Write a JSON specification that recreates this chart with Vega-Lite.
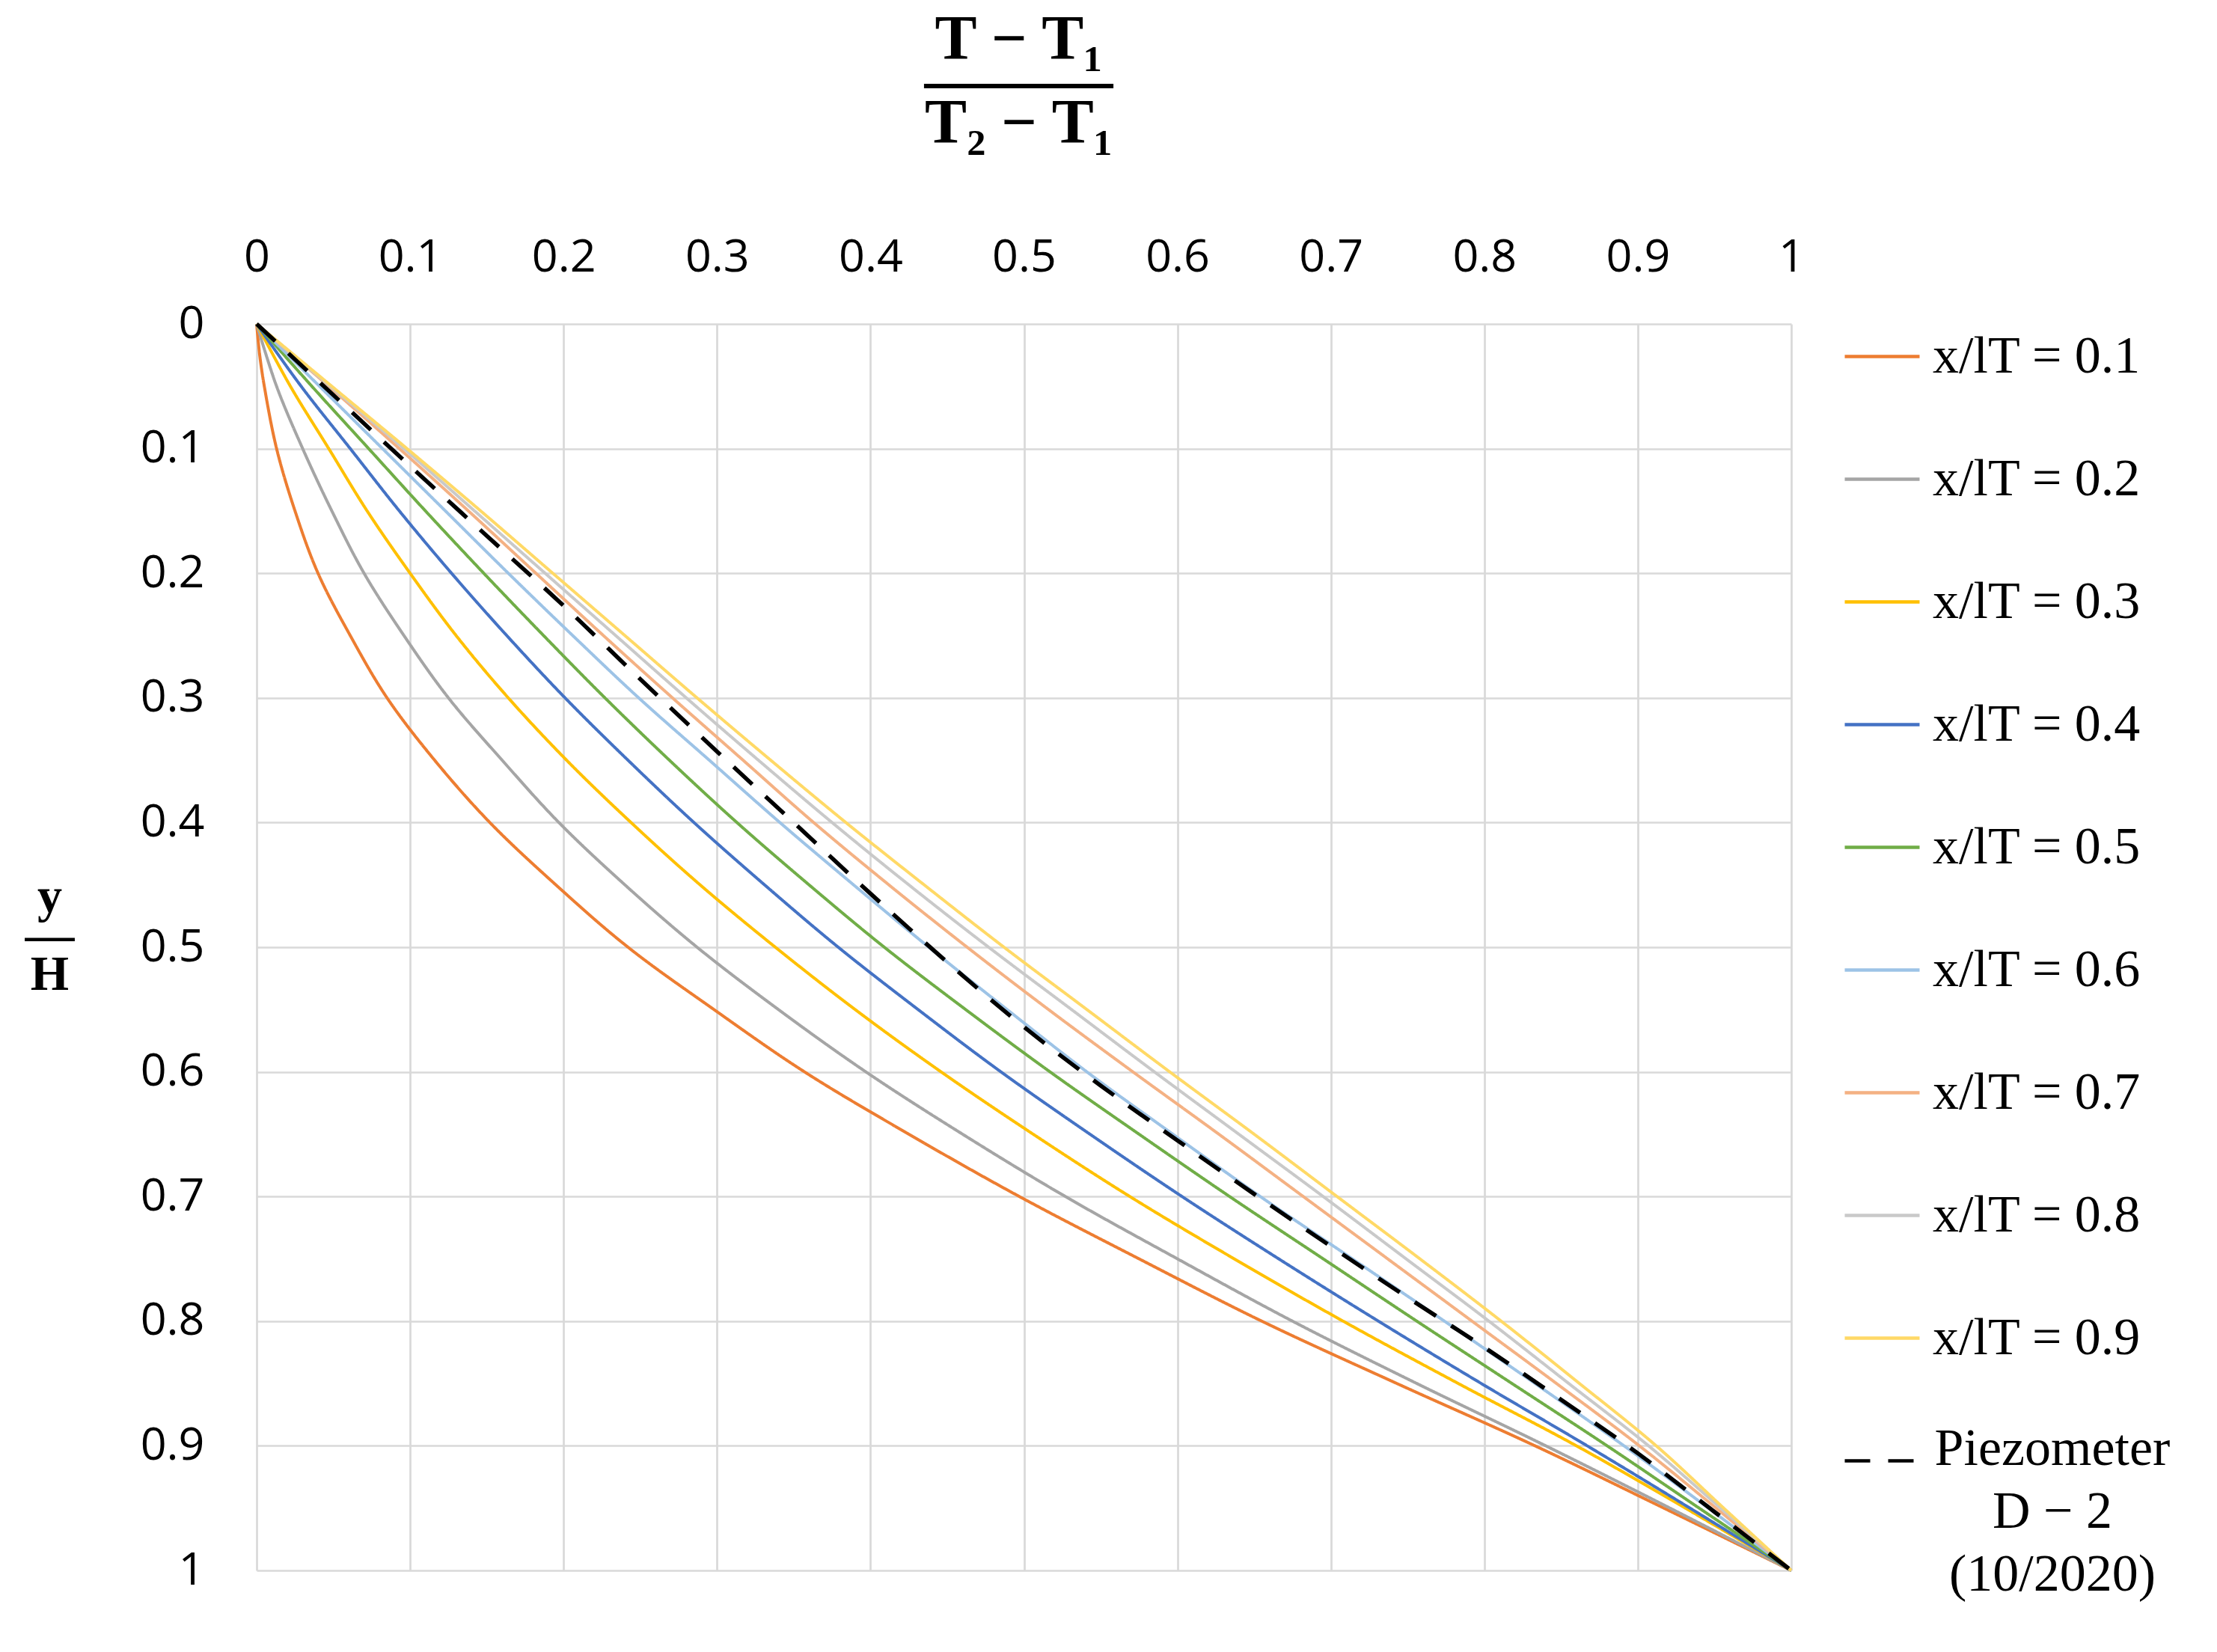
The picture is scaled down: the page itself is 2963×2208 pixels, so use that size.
{
  "$schema": "https://vega.github.io/schema/vega-lite/v6.json",
  "width": 2051,
  "height": 1666,
  "autosize": {"type": "none"},
  "padding": {"left": 343, "top": 433, "right": 569, "bottom": 109},
  "background": "white",
  "datasets": {
    "curves": [
      {"s": "0.1", "y": 0, "t": 0}, {"s": "0.1", "y": 0.025, "t": 0.002}, {"s": "0.1", "y": 0.05, "t": 0.005},
      {"s": "0.1", "y": 0.1, "t": 0.013}, {"s": "0.1", "y": 0.15, "t": 0.025}, {"s": "0.1", "y": 0.2, "t": 0.04},
      {"s": "0.1", "y": 0.25, "t": 0.061}, {"s": "0.1", "y": 0.3, "t": 0.085}, {"s": "0.1", "y": 0.35, "t": 0.116},
      {"s": "0.1", "y": 0.4, "t": 0.152}, {"s": "0.1", "y": 0.45, "t": 0.195}, {"s": "0.1", "y": 0.5, "t": 0.242},
      {"s": "0.1", "y": 0.55, "t": 0.298}, {"s": "0.1", "y": 0.6, "t": 0.357}, {"s": "0.1", "y": 0.65, "t": 0.425},
      {"s": "0.1", "y": 0.7, "t": 0.497}, {"s": "0.1", "y": 0.75, "t": 0.575}, {"s": "0.1", "y": 0.8, "t": 0.655},
      {"s": "0.1", "y": 0.85, "t": 0.743}, {"s": "0.1", "y": 0.9, "t": 0.833}, {"s": "0.1", "y": 0.95, "t": 0.917},
      {"s": "0.1", "y": 1, "t": 1},

      {"s": "0.2", "y": 0, "t": 0}, {"s": "0.2", "y": 0.05, "t": 0.013}, {"s": "0.2", "y": 0.1, "t": 0.03},
      {"s": "0.2", "y": 0.15, "t": 0.049}, {"s": "0.2", "y": 0.2, "t": 0.07}, {"s": "0.2", "y": 0.25, "t": 0.096},
      {"s": "0.2", "y": 0.3, "t": 0.125}, {"s": "0.2", "y": 0.35, "t": 0.16}, {"s": "0.2", "y": 0.4, "t": 0.197},
      {"s": "0.2", "y": 0.45, "t": 0.24}, {"s": "0.2", "y": 0.5, "t": 0.287}, {"s": "0.2", "y": 0.55, "t": 0.34},
      {"s": "0.2", "y": 0.6, "t": 0.397}, {"s": "0.2", "y": 0.65, "t": 0.46}, {"s": "0.2", "y": 0.7, "t": 0.527},
      {"s": "0.2", "y": 0.75, "t": 0.6}, {"s": "0.2", "y": 0.8, "t": 0.675}, {"s": "0.2", "y": 0.85, "t": 0.756},
      {"s": "0.2", "y": 0.9, "t": 0.84}, {"s": "0.2", "y": 0.95, "t": 0.921}, {"s": "0.2", "y": 1, "t": 1},

      {"s": "0.3", "y": 0, "t": 0}, {"s": "0.3", "y": 0.05, "t": 0.022}, {"s": "0.3", "y": 0.1, "t": 0.047},
      {"s": "0.3", "y": 0.15, "t": 0.072}, {"s": "0.3", "y": 0.2, "t": 0.1}, {"s": "0.3", "y": 0.25, "t": 0.13},
      {"s": "0.3", "y": 0.3, "t": 0.164}, {"s": "0.3", "y": 0.35, "t": 0.202}, {"s": "0.3", "y": 0.4, "t": 0.244},
      {"s": "0.3", "y": 0.45, "t": 0.289}, {"s": "0.3", "y": 0.5, "t": 0.338}, {"s": "0.3", "y": 0.55, "t": 0.39},
      {"s": "0.3", "y": 0.6, "t": 0.446}, {"s": "0.3", "y": 0.65, "t": 0.506}, {"s": "0.3", "y": 0.7, "t": 0.569},
      {"s": "0.3", "y": 0.75, "t": 0.637}, {"s": "0.3", "y": 0.8, "t": 0.708}, {"s": "0.3", "y": 0.85, "t": 0.783},
      {"s": "0.3", "y": 0.9, "t": 0.86}, {"s": "0.3", "y": 0.95, "t": 0.931}, {"s": "0.3", "y": 1, "t": 1},

      {"s": "0.4", "y": 0, "t": 0}, {"s": "0.4", "y": 0.05, "t": 0.029}, {"s": "0.4", "y": 0.1, "t": 0.061},
      {"s": "0.4", "y": 0.15, "t": 0.093}, {"s": "0.4", "y": 0.2, "t": 0.127}, {"s": "0.4", "y": 0.25, "t": 0.163},
      {"s": "0.4", "y": 0.3, "t": 0.201}, {"s": "0.4", "y": 0.35, "t": 0.242}, {"s": "0.4", "y": 0.4, "t": 0.285},
      {"s": "0.4", "y": 0.45, "t": 0.331}, {"s": "0.4", "y": 0.5, "t": 0.379}, {"s": "0.4", "y": 0.55, "t": 0.431},
      {"s": "0.4", "y": 0.6, "t": 0.485}, {"s": "0.4", "y": 0.65, "t": 0.543}, {"s": "0.4", "y": 0.7, "t": 0.603},
      {"s": "0.4", "y": 0.75, "t": 0.666}, {"s": "0.4", "y": 0.8, "t": 0.731}, {"s": "0.4", "y": 0.85, "t": 0.798},
      {"s": "0.4", "y": 0.9, "t": 0.867}, {"s": "0.4", "y": 0.95, "t": 0.934}, {"s": "0.4", "y": 1, "t": 1},

      {"s": "0.5", "y": 0, "t": 0}, {"s": "0.5", "y": 0.05, "t": 0.036}, {"s": "0.5", "y": 0.1, "t": 0.073},
      {"s": "0.5", "y": 0.15, "t": 0.11}, {"s": "0.5", "y": 0.2, "t": 0.148}, {"s": "0.5", "y": 0.25, "t": 0.187},
      {"s": "0.5", "y": 0.3, "t": 0.227}, {"s": "0.5", "y": 0.35, "t": 0.269}, {"s": "0.5", "y": 0.4, "t": 0.313},
      {"s": "0.5", "y": 0.45, "t": 0.36}, {"s": "0.5", "y": 0.5, "t": 0.409}, {"s": "0.5", "y": 0.55, "t": 0.462},
      {"s": "0.5", "y": 0.6, "t": 0.517}, {"s": "0.5", "y": 0.65, "t": 0.575}, {"s": "0.5", "y": 0.7, "t": 0.634},
      {"s": "0.5", "y": 0.75, "t": 0.695}, {"s": "0.5", "y": 0.8, "t": 0.756}, {"s": "0.5", "y": 0.85, "t": 0.818},
      {"s": "0.5", "y": 0.9, "t": 0.88}, {"s": "0.5", "y": 0.95, "t": 0.94}, {"s": "0.5", "y": 1, "t": 1},

      {"s": "0.6", "y": 0, "t": 0}, {"s": "0.6", "y": 0.05, "t": 0.041}, {"s": "0.6", "y": 0.1, "t": 0.082},
      {"s": "0.6", "y": 0.15, "t": 0.123}, {"s": "0.6", "y": 0.2, "t": 0.164}, {"s": "0.6", "y": 0.25, "t": 0.206},
      {"s": "0.6", "y": 0.3, "t": 0.249}, {"s": "0.6", "y": 0.35, "t": 0.295}, {"s": "0.6", "y": 0.4, "t": 0.341},
      {"s": "0.6", "y": 0.45, "t": 0.389}, {"s": "0.6", "y": 0.5, "t": 0.438}, {"s": "0.6", "y": 0.55, "t": 0.489},
      {"s": "0.6", "y": 0.6, "t": 0.541}, {"s": "0.6", "y": 0.65, "t": 0.597}, {"s": "0.6", "y": 0.7, "t": 0.654},
      {"s": "0.6", "y": 0.75, "t": 0.714}, {"s": "0.6", "y": 0.8, "t": 0.774}, {"s": "0.6", "y": 0.85, "t": 0.833},
      {"s": "0.6", "y": 0.9, "t": 0.891}, {"s": "0.6", "y": 0.95, "t": 0.946}, {"s": "0.6", "y": 1, "t": 1},

      {"s": "0.7", "y": 0, "t": 0}, {"s": "0.7", "y": 0.05, "t": 0.047}, {"s": "0.7", "y": 0.1, "t": 0.093},
      {"s": "0.7", "y": 0.15, "t": 0.138}, {"s": "0.7", "y": 0.2, "t": 0.182}, {"s": "0.7", "y": 0.25, "t": 0.226},
      {"s": "0.7", "y": 0.3, "t": 0.271}, {"s": "0.7", "y": 0.35, "t": 0.317}, {"s": "0.7", "y": 0.4, "t": 0.363},
      {"s": "0.7", "y": 0.45, "t": 0.412}, {"s": "0.7", "y": 0.5, "t": 0.463}, {"s": "0.7", "y": 0.55, "t": 0.516},
      {"s": "0.7", "y": 0.6, "t": 0.571}, {"s": "0.7", "y": 0.65, "t": 0.627}, {"s": "0.7", "y": 0.7, "t": 0.682},
      {"s": "0.7", "y": 0.75, "t": 0.737}, {"s": "0.7", "y": 0.8, "t": 0.792}, {"s": "0.7", "y": 0.85, "t": 0.847},
      {"s": "0.7", "y": 0.9, "t": 0.901}, {"s": "0.7", "y": 0.95, "t": 0.951}, {"s": "0.7", "y": 1, "t": 1},

      {"s": "0.8", "y": 0, "t": 0}, {"s": "0.8", "y": 0.05, "t": 0.048}, {"s": "0.8", "y": 0.1, "t": 0.096},
      {"s": "0.8", "y": 0.15, "t": 0.142}, {"s": "0.8", "y": 0.2, "t": 0.188}, {"s": "0.8", "y": 0.25, "t": 0.234},
      {"s": "0.8", "y": 0.3, "t": 0.28}, {"s": "0.8", "y": 0.35, "t": 0.327}, {"s": "0.8", "y": 0.4, "t": 0.375},
      {"s": "0.8", "y": 0.45, "t": 0.425}, {"s": "0.8", "y": 0.5, "t": 0.477}, {"s": "0.8", "y": 0.55, "t": 0.531},
      {"s": "0.8", "y": 0.6, "t": 0.585}, {"s": "0.8", "y": 0.65, "t": 0.64}, {"s": "0.8", "y": 0.7, "t": 0.695},
      {"s": "0.8", "y": 0.75, "t": 0.749}, {"s": "0.8", "y": 0.8, "t": 0.803}, {"s": "0.8", "y": 0.85, "t": 0.855},
      {"s": "0.8", "y": 0.9, "t": 0.907}, {"s": "0.8", "y": 0.95, "t": 0.954}, {"s": "0.8", "y": 1, "t": 1},

      {"s": "0.9", "y": 0, "t": 0}, {"s": "0.9", "y": 0.05, "t": 0.049}, {"s": "0.9", "y": 0.1, "t": 0.098},
      {"s": "0.9", "y": 0.15, "t": 0.146}, {"s": "0.9", "y": 0.2, "t": 0.193}, {"s": "0.9", "y": 0.25, "t": 0.24},
      {"s": "0.9", "y": 0.3, "t": 0.287}, {"s": "0.9", "y": 0.35, "t": 0.335}, {"s": "0.9", "y": 0.4, "t": 0.384},
      {"s": "0.9", "y": 0.45, "t": 0.435}, {"s": "0.9", "y": 0.5, "t": 0.487}, {"s": "0.9", "y": 0.55, "t": 0.541},
      {"s": "0.9", "y": 0.6, "t": 0.595}, {"s": "0.9", "y": 0.65, "t": 0.65}, {"s": "0.9", "y": 0.7, "t": 0.704},
      {"s": "0.9", "y": 0.75, "t": 0.758}, {"s": "0.9", "y": 0.8, "t": 0.811}, {"s": "0.9", "y": 0.85, "t": 0.862},
      {"s": "0.9", "y": 0.9, "t": 0.912}, {"s": "0.9", "y": 0.95, "t": 0.956}, {"s": "0.9", "y": 1, "t": 1},

      {"s": "Piezometer", "t": 0, "y": 0}, {"s": "Piezometer", "t": 0.05, "y": 0.057}, {"s": "Piezometer", "t": 0.1, "y": 0.114},
      {"s": "Piezometer", "t": 0.15, "y": 0.17}, {"s": "Piezometer", "t": 0.2, "y": 0.226}, {"s": "Piezometer", "t": 0.25, "y": 0.285},
      {"s": "Piezometer", "t": 0.3, "y": 0.343}, {"s": "Piezometer", "t": 0.35, "y": 0.4}, {"s": "Piezometer", "t": 0.4, "y": 0.457},
      {"s": "Piezometer", "t": 0.45, "y": 0.512}, {"s": "Piezometer", "t": 0.5, "y": 0.564}, {"s": "Piezometer", "t": 0.55, "y": 0.611},
      {"s": "Piezometer", "t": 0.6, "y": 0.655}, {"s": "Piezometer", "t": 0.65, "y": 0.698}, {"s": "Piezometer", "t": 0.7, "y": 0.74},
      {"s": "Piezometer", "t": 0.75, "y": 0.781}, {"s": "Piezometer", "t": 0.8, "y": 0.821}, {"s": "Piezometer", "t": 0.85, "y": 0.863},
      {"s": "Piezometer", "t": 0.9, "y": 0.906}, {"s": "Piezometer", "t": 0.95, "y": 0.953}, {"s": "Piezometer", "t": 1, "y": 1}
    ]
  },
  "data": {"name": "curves"},
  "mark": {"type": "line", "interpolate": "catmull-rom", "strokeCap": "butt"},
  "encoding": {
    "x": {
      "field": "t",
      "type": "quantitative",
      "scale": {"domain": [0, 1], "nice": false, "zero": false},
      "axis": {
        "orient": "top",
        "values": [0, 0.1, 0.2, 0.3, 0.4, 0.5, 0.6, 0.7, 0.8, 0.9, 1],
        "format": "~g",
        "labelPadding": 58,
        "title": ["T − T₁", "———", "T₂ − T₁"],
        "titleFontSize": 84,
        "titleLineHeight": 56,
        "titleX": 1018,
        "titleY": -355
      }
    },
    "y": {
      "field": "y",
      "type": "quantitative",
      "scale": {"domain": [0, 1], "nice": false, "zero": false, "reverse": true},
      "axis": {
        "values": [0, 0.1, 0.2, 0.3, 0.4, 0.5, 0.6, 0.7, 0.8, 0.9, 1],
        "format": "~g",
        "labelPadding": 70,
        "title": ["y", "—", "H"],
        "titleFontSize": 66,
        "titleLineHeight": 52,
        "titleAngle": 0,
        "titleX": -277,
        "titleY": 785
      }
    },
    "order": {"field": "y", "type": "quantitative"},
    "color": {
      "field": "s",
      "type": "nominal",
      "scale": {
        "domain": ["0.1", "0.2", "0.3", "0.4", "0.5", "0.6", "0.7", "0.8", "0.9", "Piezometer"],
        "range": ["#ED7D31", "#A5A5A5", "#FFC000", "#4472C4", "#70AD47", "#9DC3E6", "#F4B183", "#C9C9C9", "#FFD966", "#000000"]
      },
      "legend": {
        "title": null,
        "orient": "none",
        "legendX": 2120,
        "legendY": -9,
        "labelExpr": "datum.value == 'Piezometer' ? ['Piezometer', 'D − 2', '(10/2020)'] : 'x/lT =  ' + datum.value",
        "encode": {
          "labels": {
            "update": {
              "align": {"signal": "datum.value == 'Piezometer' ? 'center' : 'left'"},
              "dx": {"signal": "datum.value == 'Piezometer' ? 160 : 0"},
              "dy": {"signal": "datum.value == 'Piezometer' ? -16 : 0"},
              "lineHeight": {"value": 84}
            }
          }
        }
      }
    },
    "strokeDash": {
      "field": "s",
      "type": "nominal",
      "scale": {
        "domain": ["0.1", "0.2", "0.3", "0.4", "0.5", "0.6", "0.7", "0.8", "0.9", "Piezometer"],
        "range": [[1, 0], [1, 0], [1, 0], [1, 0], [1, 0], [1, 0], [1, 0], [1, 0], [1, 0], [34, 24]]
      },
      "legend": {
        "title": null,
        "orient": "none",
        "legendX": 2120,
        "legendY": -9,
        "labelExpr": "datum.value == 'Piezometer' ? ['Piezometer', 'D − 2', '(10/2020)'] : 'x/lT =  ' + datum.value",
        "encode": {
          "labels": {
            "update": {
              "align": {"signal": "datum.value == 'Piezometer' ? 'center' : 'left'"},
              "dx": {"signal": "datum.value == 'Piezometer' ? 160 : 0"},
              "dy": {"signal": "datum.value == 'Piezometer' ? -16 : 0"},
              "lineHeight": {"value": 84}
            }
          }
        }
      }
    },
    "strokeWidth": {
      "condition": {"test": "datum.s === 'Piezometer'", "value": 5.5},
      "value": 4
    }
  },
  "config": {
    "view": {"stroke": null},
    "axis": {
      "domain": false,
      "ticks": false,
      "tickSize": 0,
      "grid": true,
      "gridColor": "#D9D9D9",
      "gridWidth": 2.7,
      "labelFont": "Open Sans",
      "labelFontSize": 61,
      "labelColor": "#000000",
      "labelFlush": false,
      "labelOverlap": false,
      "titleFont": "Liberation Serif",
      "titleFontWeight": "bold",
      "titleColor": "#000000",
      "titleAlign": "center",
      "titleBaseline": "alphabetic"
    },
    "legend": {
      "padding": 0,
      "symbolType": "stroke",
      "symbolSize": 10000,
      "symbolStrokeWidth": 4.5,
      "labelFont": "Liberation Serif",
      "labelFontSize": 70,
      "labelColor": "#000000",
      "labelOffset": 15,
      "labelLimit": 2000,
      "rowPadding": 76
    }
  }
}
